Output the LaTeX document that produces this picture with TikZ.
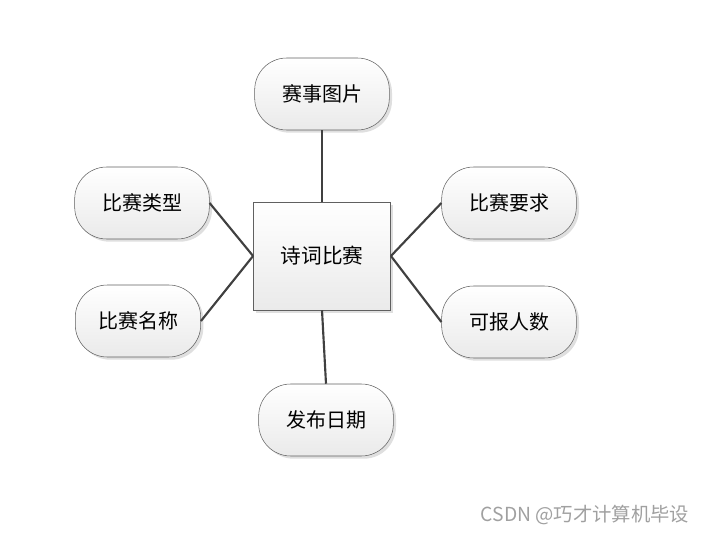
\documentclass[tikz,border=0pt]{standalone}
\usepackage{fontspec}
\setmainfont{Noto Sans CJK SC}
\usetikzlibrary{shadows,positioning}
\definecolor{erline}{RGB}{64,64,64}
\definecolor{erborder}{RGB}{96,96,96}
\definecolor{erfill}{RGB}{234,234,234}
\definecolor{ermark}{RGB}{160,160,160}

\begin{document}
\begin{tikzpicture}[x=0.75pt,y=-0.75pt,
  attr/.style={draw=erborder,rounded corners=24pt,minimum width=101pt,minimum height=54pt,
               top color=white,bottom color=erfill,
               drop shadow={shadow xshift=2pt,shadow yshift=-2pt,opacity=0.25,fill=gray},
               font=\fontsize{15}{17}\selectfont},
  ent/.style={draw=erborder,minimum width=103pt,minimum height=81pt,
              top color=white,bottom color=erfill,
              drop shadow={shadow xshift=2pt,shadow yshift=-2pt,opacity=0.25,fill=gray},
              font=\fontsize{15.5}{17}\selectfont},
  link/.style={erline,line width=1.6pt}]
  \useasboundingbox (0,0) rectangle (709,534);
  % Entity
  \node[ent] (poem) at (322,256) {诗词比赛};
  % Attributes
  \node[attr] (pic) at (322,94) {赛事图片};
  \node[attr] (type) at (142,203) {比赛类型};
  \node[attr,minimum width=94pt] (name) at (138,321) {比赛名称};
  \node[attr] (req) at (509,203) {比赛要求};
  \node[attr] (num) at (509,322) {可报人数};
  \node[attr] (date) at (326,420) {发布日期};
  % Links
  \draw[link] (pic.south) -- (poem.north);
  \draw[link] (type.east) -- (poem.west);
  \draw[link] (name.east) -- (poem.west);
  \draw[link] (poem.east) -- (req.west);
  \draw[link] (poem.east) -- (num.west);
  \draw[link] (poem.south) -- (date.north);
  % Watermark
  \node[font=\fontsize{14.5}{16}\selectfont,ermark,anchor=east] (mark) at (694,515) {CSDN @巧才计算机毕设};
\end{tikzpicture}
\end{document}
